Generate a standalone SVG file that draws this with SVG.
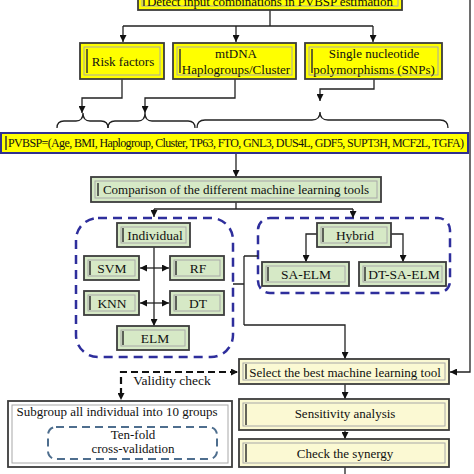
<svg xmlns="http://www.w3.org/2000/svg" width="474" height="474" viewBox="0 0 474 474">
<style>
text{font-family:"Liberation Serif","Times New Roman",serif;font-size:13px;fill:#111;text-anchor:middle}
.o{stroke:#3c3c3c;stroke-width:1.8}
.y{fill:#ffff00}
.g{fill:#d6e9c6}
.ly{fill:#fbf9d3}
.w{fill:#ffffff}
.in{fill:none;stroke:#a8a8a8;stroke-width:1}
.bar{stroke:#333;stroke-width:1.5}
.c{fill:none;stroke:#222;stroke-width:1.3}
.reg{fill:none;stroke:#2e2e9c;stroke-width:2.5;stroke-dasharray:9,6}
.cv{fill:none;stroke:#4e6e8e;stroke-width:2;stroke-dasharray:8,5}
</style>
<defs>
<marker id="a" viewBox="0 0 10 10" refX="10" refY="5" markerWidth="7" markerHeight="7" markerUnits="userSpaceOnUse" orient="auto-start-reverse"><path d="M0,0L10,5L0,10z" fill="#111"/></marker>
</defs>
<rect width="474" height="474" fill="#ffffff"/>

<g id="regions">
<rect class="reg" x="76" y="218" width="157" height="139" rx="22"/>
<rect class="reg" x="258" y="218" width="192" height="75" rx="12"/>
</g>

<g id="connectors">
<path class="c" d="M270,10V26M123,26H373"/>
<path class="c" d="M123,26V42" marker-end="url(#a)"/>
<path class="c" d="M236,26V42" marker-end="url(#a)"/>
<path class="c" d="M373,26V42" marker-end="url(#a)"/>
<path class="c" d="M122,79V98H82V113" marker-end="url(#a)"/>
<path class="c" d="M235,79V98H145V113" marker-end="url(#a)"/>
<path class="c" d="M374,79V89H320V101" marker-end="url(#a)"/>
<path class="c" stroke-width="1.8" d="M57,128Q57,121 64,121H76Q83,121 83,113Q83,121 90,121H101Q108,121 108,128"/>
<path class="c" stroke-width="1.8" d="M108,128Q108,121 115,121H138Q145,121 145,113Q145,121 152,121H188Q195,121 195,128"/>
<path class="c" stroke-width="1.8" d="M197,128Q197,120 205,120H312Q320,120 320,112Q320,120 328,120H440Q448,120 448,128"/>
<path class="c" d="M236,153V177" marker-end="url(#a)"/>
<path class="c" d="M236,202V209M154,209H353"/>
<path class="c" d="M154,209V217" marker-end="url(#a)"/>
<path class="c" d="M353,209V218" marker-end="url(#a)"/>
<path class="c" d="M154,247V326" marker-end="url(#a)"/>
<path class="c" d="M140,268H169" marker-start="url(#a)" marker-end="url(#a)"/>
<path class="c" d="M140,303H169" marker-start="url(#a)" marker-end="url(#a)"/>
<path class="c" d="M317,234H306V262" marker-end="url(#a)"/>
<path class="c" d="M391,234H403V262" marker-end="url(#a)"/>
<path class="c" d="M233,284H244M244,256V325M244,256H258"/>
<path class="c" d="M244,325H345V359" marker-end="url(#a)"/>
<path class="c" d="M470,0V372H450" marker-end="url(#a)"/>
<path class="c" d="M345,384V399" marker-end="url(#a)"/>
<path class="c" d="M345,430V439" marker-end="url(#a)"/>
<path class="c" d="M345,467V474"/>
<path fill="none" stroke="#111" stroke-width="2.2" stroke-dasharray="7,4" d="M237,372H121V399"/>
<path fill="none" stroke="none" d="M122,372H238" marker-end="url(#a)"/>
<path fill="none" stroke="none" d="M121,372V400" marker-end="url(#a)"/>
<text x="172" y="385" style="font-size:13.5px">Validity check</text>
</g>

<g id="detect">
<rect class="o y" x="138" y="-14" width="264" height="24"/>
<rect class="in" x="142" y="-10" width="256" height="16"/>
<line class="bar" x1="144" y1="-8" x2="144" y2="6"/>
<text x="270" y="6" textLength="246">Detect input combinations in PVBSP estimation</text>
</g>

<g id="risk">
<rect class="o y" x="80" y="43" width="84" height="36"/>
<rect class="in" x="84" y="47" width="76" height="28"/>
<line class="bar" x1="87" y1="49" x2="87" y2="73"/>
<text x="123" y="66">Risk factors</text>
</g>

<g id="mtdna">
<rect class="o y" x="173" y="43" width="123" height="36"/>
<rect class="in" x="177" y="47" width="115" height="28"/>
<line class="bar" x1="180" y1="49" x2="180" y2="73"/>
<text x="236" y="58">mtDNA</text>
<text x="236" y="74">Haplogroups/Cluster</text>
</g>

<g id="snps">
<rect class="o y" x="305" y="43" width="137" height="36"/>
<rect class="in" x="309" y="47" width="129" height="28"/>
<line class="bar" x1="312" y1="49" x2="312" y2="73"/>
<text x="374" y="58">Single nucleotide</text>
<text x="374" y="74">polymorphisms (SNPs)</text>
</g>

<g id="pvbsp">
<rect x="1" y="133" width="467" height="20" fill="#ffff00" stroke="#303090" stroke-width="2"/>
<line class="bar" x1="6" y1="136" x2="6" y2="150"/>
<text x="236" y="147" style="font-size:12px" textLength="456">PVBSP=(Age, BMI, Haplogroup, Cluster, TP63, FTO, GNL3, DUS4L, GDF5, SUPT3H, MCF2L, TGFA)</text>
</g>

<g id="compare">
<rect class="o g" x="91" y="177" width="290" height="25"/>
<rect class="in" x="95" y="181" width="282" height="17"/>
<line class="bar" x1="98" y1="183" x2="98" y2="196"/>
<text x="236" y="194">Comparison of the different machine learning tools</text>
</g>

<g id="individual">
<rect class="o g" x="117" y="223" width="73" height="24"/>
<rect class="in" x="121" y="227" width="65" height="16"/>
<line class="bar" x1="123" y1="228" x2="123" y2="242"/>
<text x="155" y="240" style="font-size:13.5px">Individual</text>
</g>
<g id="svm">
<rect class="o g" x="84" y="256" width="55" height="24"/>
<rect class="in" x="88" y="260" width="47" height="16"/>
<line class="bar" x1="90" y1="261" x2="90" y2="275"/>
<text x="112" y="273" style="font-size:13.5px">SVM</text>
</g>
<g id="rf">
<rect class="o g" x="170" y="256" width="54" height="24"/>
<rect class="in" x="174" y="260" width="46" height="16"/>
<line class="bar" x1="176" y1="261" x2="176" y2="275"/>
<text x="198" y="273" style="font-size:13.5px">RF</text>
</g>
<g id="knn">
<rect class="o g" x="84" y="291" width="55" height="24"/>
<rect class="in" x="88" y="295" width="47" height="16"/>
<line class="bar" x1="90" y1="296" x2="90" y2="310"/>
<text x="112" y="308" style="font-size:13.5px">KNN</text>
</g>
<g id="dt">
<rect class="o g" x="170" y="291" width="54" height="24"/>
<rect class="in" x="174" y="295" width="46" height="16"/>
<line class="bar" x1="176" y1="296" x2="176" y2="310"/>
<text x="198" y="308" style="font-size:13.5px">DT</text>
</g>
<g id="elm">
<rect class="o g" x="117" y="326" width="72" height="24"/>
<rect class="in" x="121" y="330" width="64" height="16"/>
<line class="bar" x1="123" y1="331" x2="123" y2="345"/>
<text x="155" y="343" style="font-size:13.5px">ELM</text>
</g>

<g id="hybrid">
<rect class="o g" x="317" y="223" width="74" height="24"/>
<rect class="in" x="321" y="227" width="66" height="16"/>
<line class="bar" x1="323" y1="228" x2="323" y2="242"/>
<text x="355" y="240" style="font-size:13.5px">Hybrid</text>
</g>
<g id="saelm">
<rect class="o g" x="262" y="262" width="87" height="24"/>
<rect class="in" x="266" y="266" width="79" height="16"/>
<line class="bar" x1="268" y1="267" x2="268" y2="281"/>
<text x="306" y="279" style="font-size:13.5px">SA-ELM</text>
</g>
<g id="dtsaelm">
<rect class="o g" x="359" y="262" width="87" height="24"/>
<rect class="in" x="363" y="266" width="79" height="16"/>
<line class="bar" x1="365" y1="267" x2="365" y2="281"/>
<text x="404" y="279" style="font-size:13.5px">DT-SA-ELM</text>
</g>

<g id="select">
<rect class="o ly" x="239" y="359" width="210" height="25"/>
<rect class="in" x="243" y="363" width="202" height="17"/>
<line class="bar" x1="246" y1="364" x2="246" y2="379"/>
<text x="345" y="377">Select the best machine learning tool</text>
</g>
<g id="sensitivity">
<rect class="o ly" x="239" y="399" width="210" height="31"/>
<rect class="in" x="243" y="403" width="202" height="23"/>
<line class="bar" x1="246" y1="404" x2="246" y2="425"/>
<text x="345" y="418">Sensitivity analysis</text>
</g>
<g id="synergy">
<rect class="o ly" x="239" y="439" width="210" height="28"/>
<rect class="in" x="243" y="443" width="202" height="20"/>
<line class="bar" x1="246" y1="444" x2="246" y2="462"/>
<text x="345" y="458">Check the synergy</text>
</g>

<g id="subgroup">
<rect class="o w" x="8" y="401" width="224" height="66"/>
<rect class="in" x="12" y="405" width="216" height="58"/>
<text x="117" y="416">Subgroup all individual into 10 groups</text>
<rect class="cv" x="48" y="427" width="169" height="32" rx="8"/>
<text x="133" y="439">Ten-fold</text>
<text x="133" y="453">cross-validation</text>
</g>
</svg>
